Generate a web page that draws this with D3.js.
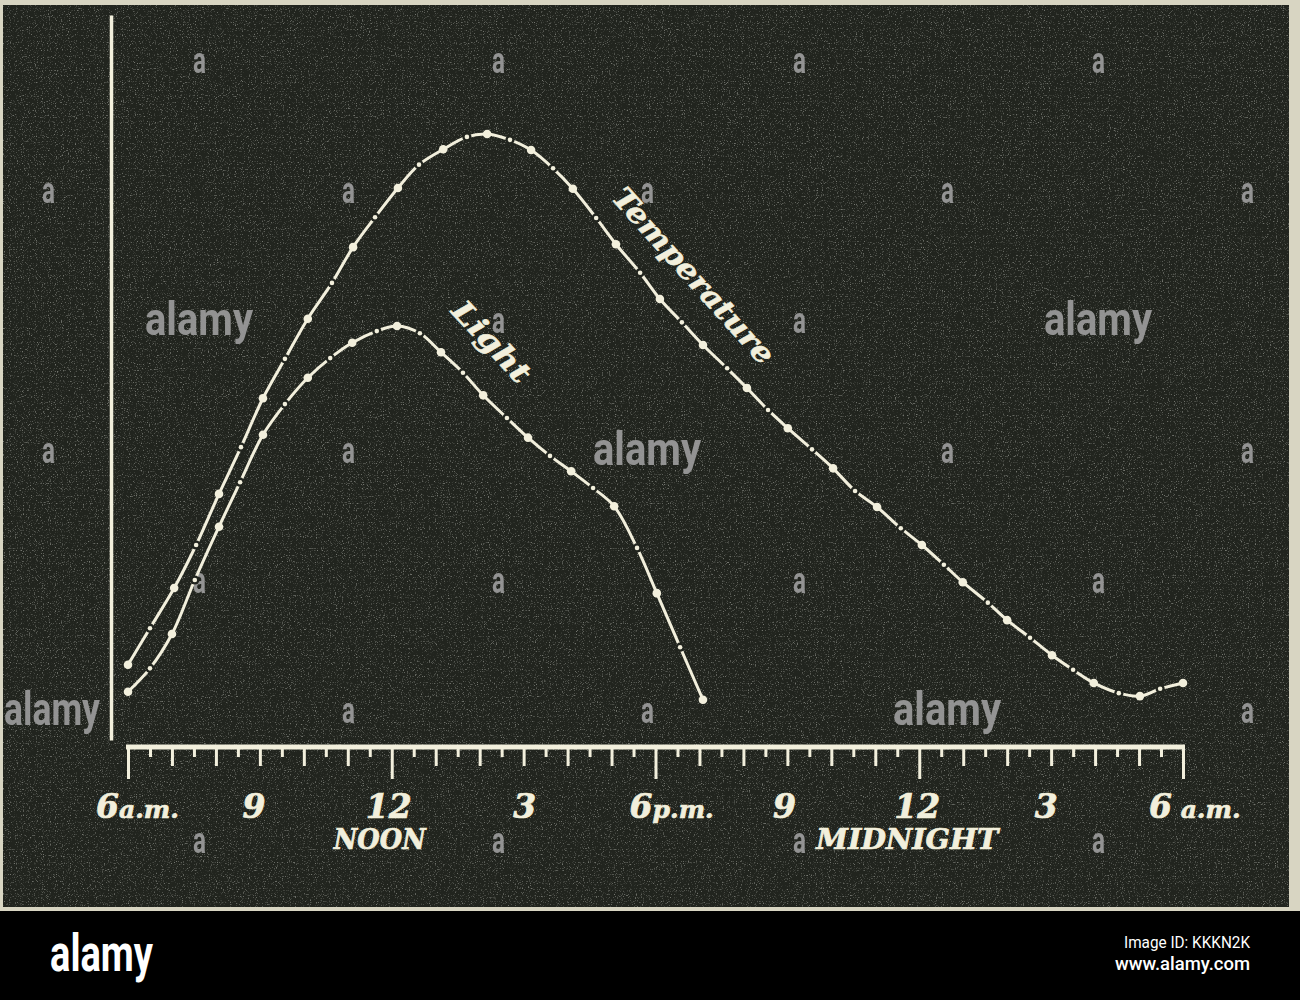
<!DOCTYPE html>
<html>
<head>
<meta charset="utf-8">
<script src="https://cdn.jsdelivr.net/npm/d3@7/dist/d3.min.js"></script>
<style>
  html, body { margin: 0; padding: 0; background: #000; }
  svg { display: block; }
</style>
</head>
<body>
<svg id="chart" width="1300" height="1000"></svg>
<script>
// ---- data (hours after 6 a.m., relative value 0-100) ----
const tempHours = [0,0.5,1.05,1.55,2.07,2.57,3.07,3.57,4.09,4.64,5.12,5.62,6.14,6.62,7.17,7.71,8.17,8.69,9.17,9.67,10.12,10.65,11.1,11.65,12.1,12.6,13.08,13.63,14.08,14.56,15.01,15.56,16.04,16.54,17.04,17.58,18.06,18.56,18.99,19.56,20.0,20.52,21.02,21.5,21.97,22.54,23.02,23.48,24.0];
const tempValues = [11.0,16.0,21.5,27.4,34.4,40.8,47.5,52.9,58.4,63.3,68.2,72.3,76.3,79.5,81.6,83.3,83.7,82.9,81.5,79.0,76.2,72.2,68.6,64.7,61.1,57.9,54.8,51.6,48.9,45.9,43.4,40.5,37.9,34.8,32.6,29.7,27.4,24.7,22.3,19.5,17.1,14.7,12.3,10.3,8.5,7.1,6.7,7.7,8.5];
const lightHours = [0,0.5,1.0,1.52,2.07,2.55,3.07,3.57,4.09,4.6,5.1,5.66,6.12,6.64,7.12,7.62,8.08,8.62,9.1,9.6,10.08,10.58,11.06,11.58,12.03,12.56,13.08];
const lightValues = [7.3,10.5,15.2,22.6,29.9,36.0,42.5,46.7,50.3,53.0,55.1,56.7,57.4,56.4,53.8,51.0,47.9,44.8,42.1,39.6,37.5,35.2,32.7,27.0,20.8,13.4,6.2];
const tickHours = d3.range(0, 24.01, 0.5);
const labelHours = [0,3,6,9,12,15,18,21,24];
const labelMain = ["6","9","12","3","6","9","12","3","6"];
const labelSuffix = ["a.m.","","","","p.m.","","",""," a.m."];
const subLabels = [{h:6, text:"NOON"}, {h:18, text:"MIDNIGHT"}];
const seriesNames = ["Temperature","Light"];

// ---- setup ----
const BG = "#21241e";
const INK = "#f2efdc";
const svg = d3.select("#chart");
const x = d3.scaleLinear().domain([0,24]).range([128,1183]);
const y = d3.scaleLinear().domain([0,100]).range([745,15]);

const defs = svg.append("defs");
const f = defs.append("filter").attr("id","grain").attr("x",0).attr("y",0).attr("width","100%").attr("height","100%");
f.append("feTurbulence").attr("type","fractalNoise").attr("baseFrequency","0.85").attr("numOctaves",2).attr("seed",7);
f.append("feColorMatrix").attr("type","matrix")
  .attr("values","0 0 0 0 0.85  0 0 0 0 0.86  0 0 0 0 0.8  0 0 0 4 -2.3");

// frame
svg.append("rect").attr("x",0).attr("y",0).attr("width",1300).attr("height",912).attr("fill","#d8d5c2");
svg.append("rect").attr("x",3).attr("y",5).attr("width",1286).attr("height",902).attr("fill",BG);
svg.append("rect").attr("x",3).attr("y",5).attr("width",1286).attr("height",902)
  .attr("filter","url(#grain)").attr("opacity",0.4);
svg.append("rect").attr("x",0).attr("y",911).attr("width",1300).attr("height",89).attr("fill","#000");

// watermarks
const wm = svg.append("g").attr("fill","#9c9c9c").attr("opacity",0.92)
  .style("font-family","Roboto, 'Liberation Sans', sans-serif").style("font-weight","700");
const rows = d3.range(7).map(k => 63 + 130*k);
const bigSpots = [[0,2],[3,2],[2,3],[0,5],[3,5]]; // [col, row]
rows.forEach((ry, r) => {
  const cols = (r % 2 === 0) ? [199,498,799,1098] : [48,348,647,947,1247];
  cols.forEach((cx, c) => {
    const big = bigSpots.some(s => s[0]===c && s[1]===r);
    if (big) {
      const left = Math.max(4, cx - 54);
      const w = (cx - 54 < 4) ? 96 : 108;
      wm.append("text").attr("x", left).attr("y", ry + 12).attr("font-size", 46)
        .attr("textLength",w).attr("lengthAdjust","spacingAndGlyphs").text("alamy");
    } else {
      wm.append("text").attr("x", cx - 6).attr("y", ry + 10).attr("font-size", 37)
        .attr("textLength",13).attr("lengthAdjust","spacingAndGlyphs").text("a");
    }
  });
});

// y axis (plain vertical rule)
const yAxis = svg.append("g").attr("transform","translate(111,0)")
  .call(d3.axisLeft(d3.scaleLinear().domain([0,100]).range([740,15])).ticks(0).tickSizeOuter(0));
yAxis.select(".domain").attr("stroke",INK).attr("stroke-width",3.5);

// x axis
const xAxis = svg.append("g").attr("transform","translate(0,747)")
  .call(d3.axisBottom(x).tickValues(tickHours).tickSizeOuter(0).tickFormat(""));
xAxis.select(".domain").attr("stroke",INK).attr("stroke-width",5).attr("d","M126,0H1185");
xAxis.selectAll(".tick line").attr("stroke",INK).attr("stroke-width",3)
  .attr("y2", d => (d % 6 === 0) ? 32 : (d % 1 === 0 ? 19 : 10));

// labels
const lab = svg.append("g").attr("fill",INK).attr("stroke",INK).attr("stroke-width",0.7)
  .style("font-family","'DejaVu Serif', serif").style("font-weight","bold").style("font-style","italic");
const labelDx = [-32,-6,-3,1,-26,-3,-2,-5,-34];
labelHours.forEach((h,i) => {
  const t = lab.append("text").attr("x", x(h) + labelDx[i]).attr("y", 818)
    .attr("text-anchor", labelSuffix[i] ? "start" : "middle").attr("font-size", 33);
  t.append("tspan").text(labelMain[i]);
  if (labelSuffix[i]) t.append("tspan").attr("font-size", 25).text(labelSuffix[i]);
});
subLabels.forEach(s => {
  lab.append("text").attr("x", x(s.h) - 12).attr("y", 849).attr("text-anchor","middle")
    .attr("font-size", 27).attr("textLength", s.text.length > 4 ? 182 : 92)
    .attr("lengthAdjust","spacingAndGlyphs").text(s.text);
});

// series
const line = d3.line().x(d => x(d.h)).y(d => y(d.v)).curve(d3.curveCatmullRom.alpha(0.5));
function drawSeries(hours, values) {
  const pts = hours.map((h,i) => ({h, v: values[i], big: i % 2 === 0}));
  const g = svg.append("g");
  g.append("path").datum(pts).attr("d", line).attr("fill","none")
    .attr("stroke",INK).attr("stroke-width",3).attr("stroke-linecap","round");
  g.selectAll("circle.gap").data(pts.filter(p => !p.big)).join("circle")
    .attr("cx", d => x(d.h)).attr("cy", d => y(d.v)).attr("r", 4.6).attr("fill", BG);
  g.selectAll("circle.dot").data(pts).join("circle")
    .attr("cx", d => x(d.h)).attr("cy", d => y(d.v)).attr("r", d => d.big ? 4.3 : 2.3).attr("fill", INK);
}
drawSeries(tempHours, tempValues);
drawSeries(lightHours, lightValues);

// series names along the curves
const nameG = svg.append("g").attr("fill",INK).attr("stroke",INK).attr("stroke-width",0.6)
  .style("font-family","'DejaVu Serif', serif").style("font-weight","bold").style("font-style","italic");
nameG.append("text").attr("transform","translate(692,277) rotate(48)").attr("text-anchor","middle")
  .attr("dominant-baseline","middle").attr("font-size",29).attr("textLength",226)
  .attr("lengthAdjust","spacingAndGlyphs").text(seriesNames[0]);
nameG.append("text").attr("transform","translate(490,343) rotate(47)").attr("text-anchor","middle")
  .attr("dominant-baseline","middle").attr("font-size",29).attr("textLength",100)
  .attr("lengthAdjust","spacingAndGlyphs").text(seriesNames[1]);

// footer
const foot = svg.append("g").attr("fill","#fff").style("font-family","Roboto, 'Liberation Sans', sans-serif");
foot.append("text").attr("x",50).attr("y",971).attr("font-size",52).attr("font-weight",700)
  .attr("textLength",103).attr("lengthAdjust","spacingAndGlyphs").text("alamy");
foot.append("text").attr("x",1250).attr("y",948).attr("text-anchor","end").attr("font-size",16)
  .attr("textLength",126).attr("lengthAdjust","spacingAndGlyphs").text("Image ID: KKKN2K");
foot.append("text").attr("x",1250).attr("y",970).attr("text-anchor","end").attr("font-size",19).attr("font-weight",500)
  .attr("textLength",135).attr("lengthAdjust","spacingAndGlyphs").text("www.alamy.com");
</script>
</body>
</html>
